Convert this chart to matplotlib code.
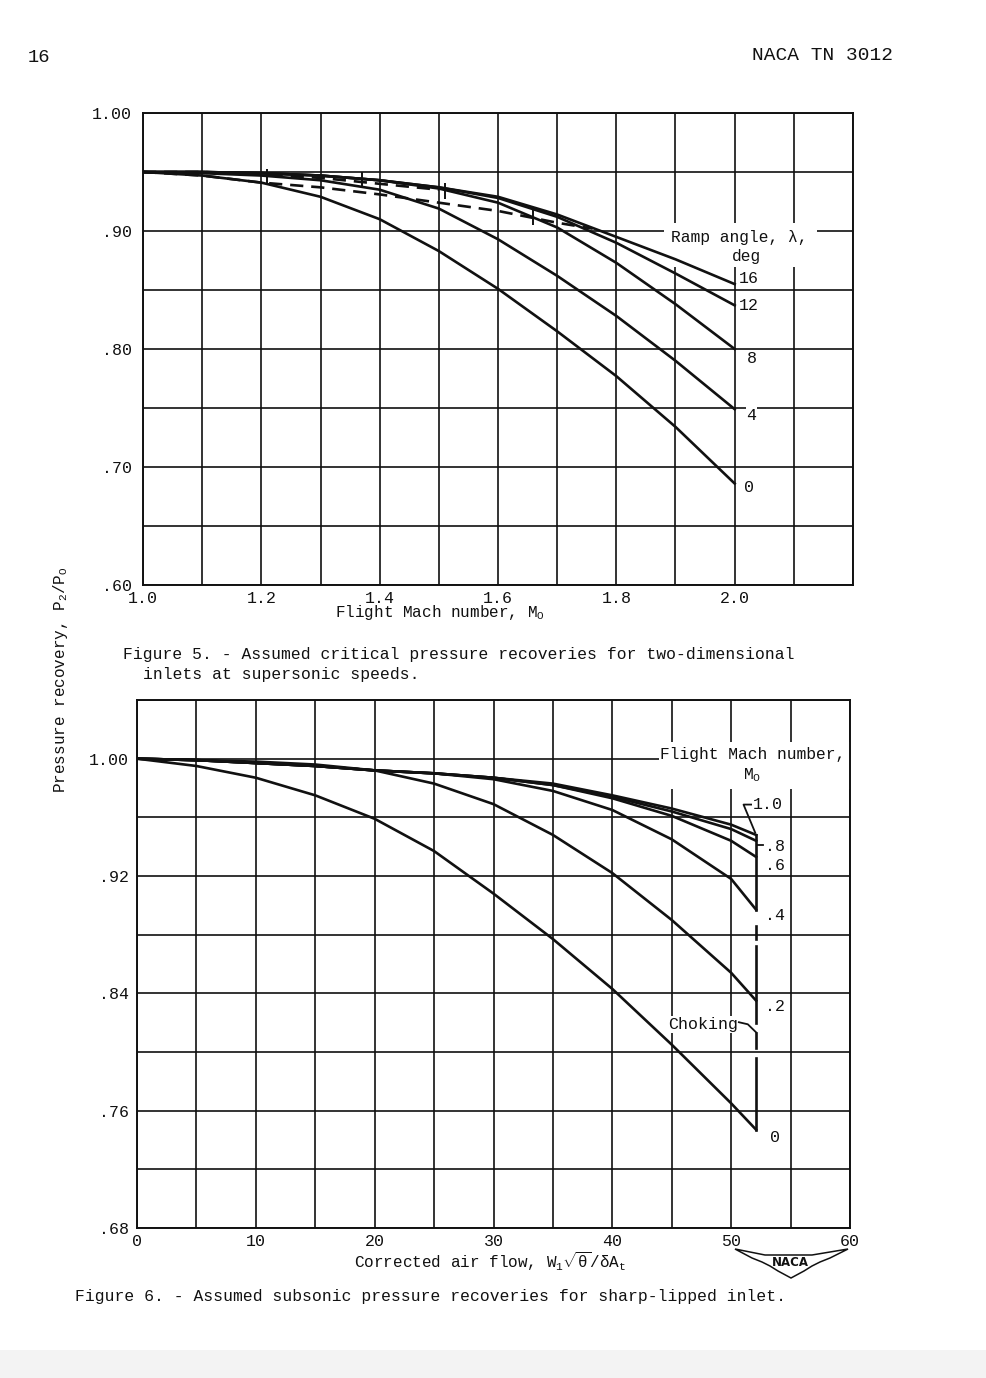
#!/bin/env python3
# NACA TN 3012, page 16: figures 5 and 6 redrawn.

import numpy as np
import matplotlib.pyplot as plt
from matplotlib.patches import Rectangle, Polygon

plt.rcParams['font.family'] = ['Liberation Mono', 'DejaVu Sans Mono']
plt.rcParams['mathtext.fontset'] = 'custom'
plt.rcParams['mathtext.rm'] = 'Liberation Mono'
plt.rcParams['mathtext.it'] = 'Liberation Mono'
plt.rcParams['mathtext.bf'] = 'Liberation Mono:bold'
plt.rcParams['mathtext.default'] = 'rm'

# ---- Figure 5: critical pressure recovery vs flight Mach number ----
mach = [1.0, 1.1, 1.2, 1.3, 1.4, 1.5, 1.6, 1.7, 1.8, 1.9, 2.0]
ramp_angles = ['16', '12', '8', '4', '0']
rec_ramp16 = [0.950, 0.950, 0.949, 0.947, 0.943, 0.937, 0.929, 0.914, 0.895, 0.876, 0.855]
rec_ramp12 = [0.950, 0.950, 0.949, 0.947, 0.943, 0.937, 0.928, 0.912, 0.890, 0.864, 0.837]
rec_ramp8 = [0.950, 0.950, 0.949, 0.947, 0.943, 0.936, 0.924, 0.903, 0.873, 0.838, 0.800]
rec_ramp4 = [0.950, 0.949, 0.947, 0.943, 0.935, 0.919, 0.893, 0.862, 0.828, 0.790, 0.749]
rec_ramp0 = [0.950, 0.947, 0.941, 0.929, 0.910, 0.883, 0.851, 0.815, 0.777, 0.734, 0.686]

# dashed envelopes
mach_dash_upper = [1.0, 1.1, 1.2, 1.3, 1.4, 1.5]
rec_dash_upper = [0.950, 0.950, 0.948, 0.945, 0.940, 0.935]
mach_dash_lower = [1.0, 1.1, 1.2, 1.3, 1.4, 1.5, 1.6, 1.7, 1.76]
rec_dash_lower = [0.950, 0.947, 0.941, 0.937, 0.931, 0.924, 0.917, 0.907, 0.902]

# short vertical tick marks on the curves
tick_mach = [1.21, 1.37, 1.51, 1.66]
tick_rec = [0.946, 0.943, 0.934, 0.912]

# ---- Figure 6: subsonic pressure recovery vs corrected air flow ----
airflow = [0, 5, 10, 15, 20, 25, 30, 35, 40, 45, 50, 52.1]
flight_mach = ['1.0', '.8', '.6', '.4', '.2', '0']
rec_m10 = [1.000, 0.999, 0.997, 0.995, 0.992, 0.990, 0.987, 0.983, 0.975, 0.966, 0.955, 0.948]
rec_m08 = [1.000, 0.999, 0.997, 0.995, 0.992, 0.990, 0.987, 0.982, 0.974, 0.964, 0.952, 0.944]
rec_m06 = [1.000, 0.999, 0.997, 0.995, 0.992, 0.990, 0.987, 0.982, 0.973, 0.961, 0.944, 0.933]
rec_m04 = [1.000, 0.999, 0.997, 0.995, 0.992, 0.990, 0.986, 0.978, 0.965, 0.945, 0.918, 0.897]
rec_m02 = [1.000, 0.999, 0.998, 0.996, 0.992, 0.983, 0.969, 0.948, 0.922, 0.890, 0.854, 0.835]
rec_m00 = [1.000, 0.995, 0.987, 0.975, 0.959, 0.937, 0.908, 0.877, 0.843, 0.805, 0.765, 0.747]

choke_flow = 52.1
choke_segments = [(0.948, 0.897), (0.886, 0.877), (0.872, 0.820), (0.813, 0.803), (0.796, 0.747)]

W, H = 986, 1378
INK = '#111111'


def page(x, y):
    return x / W, 1 - y / H


def style(ax, xgrid, xlabels, ygrid, ylabels, ypad):
    ax.set_xlim(xgrid[0], xgrid[-1])
    ax.set_ylim(ygrid[0], ygrid[-1])
    ax.set_xticks(xgrid, labels=xlabels)
    ax.set_yticks(ygrid, labels=ylabels)
    ax.tick_params(length=0, labelsize=12, colors=INK)
    ax.tick_params(axis='x', pad=4)
    ax.tick_params(axis='y', pad=ypad)
    ax.grid(True, color=INK, lw=1.2)
    ax.set_axisbelow(True)
    for s in ax.spines.values():
        s.set_linewidth(1.4)
        s.set_color(INK)


fig = plt.figure(figsize=(9.86, 13.78), dpi=100)

# light grey strip at the foot of the page scan
fig.add_artist(Rectangle(page(0, 1378), 1.0, 28 / H, fc='#f3f3f3', ec='none',
                         transform=fig.transFigure, zorder=0))

fig.text(*page(28, 58), '16', fontsize=13.5, va='center', color=INK)
fig.text(*page(893, 55), 'NACA TN 3012', fontsize=14, va='center', ha='right', color=INK)

# ---------------- Figure 5 ----------------
ax1 = fig.add_axes([143 / W, 1 - 585 / H, 710 / W, 472 / H])
xg = np.round(np.arange(1.0, 2.21, 0.1), 2)
yg = np.round(np.arange(0.60, 1.001, 0.05), 2)
xl = [f'{v:.1f}' if (round(v * 10) % 2 == 0 and v <= 2.0) else '' for v in xg]
yl = [('1.00' if v == 1.0 else f'{v:.2f}'[1:]) if round(v * 100) % 10 == 0 else '' for v in yg]
style(ax1, xg, xl, yg, yl, 8)

ax1.add_patch(Rectangle((1.88, 0.8695), 0.26, 0.0375, fc='white', ec='none', zorder=1))

curve = dict(color=INK, lw=1.9, zorder=3, solid_joinstyle='round', dash_joinstyle='round')
for rec in [rec_ramp16, rec_ramp12, rec_ramp8, rec_ramp4, rec_ramp0]:
    ax1.plot(mach, rec, **curve)
ax1.plot(mach_dash_upper, rec_dash_upper, ls=(0, (5, 3)), **curve)
ax1.plot(mach_dash_lower, rec_dash_lower, ls=(0, (5, 3)), **curve)
ax1.plot(tick_mach, tick_rec, ls='none', marker='|', ms=11, mew=1.4, color=INK, zorder=3)

wb = dict(fc='white', ec='none', pad=0.6)
ax1.text(2.007, 0.8949, 'Ramp angle, \u03bb,', ha='center', va='center', fontsize=11.7,
         bbox=wb, zorder=4, color=INK)
ax1.text(2.020, 0.8780, 'deg', ha='center', va='center', fontsize=11.7, bbox=wb, zorder=4, color=INK)
label_y5 = [0.860, 0.837, 0.792, 0.744, 0.683]
label_x5 = [2.007, 2.007, 2.020, 2.020, 2.015]
for lab, lx, ly in zip(ramp_angles, label_x5, label_y5):
    ax1.text(lx, ly, lab, ha='left', va='center', fontsize=12, bbox=wb, zorder=4, color=INK)

fig.text(*page(440, 613), 'Flight Mach number, M$_{O}$', ha='center', va='center',
         fontsize=11.5, color=INK)
fig.text(*page(123, 655), 'Figure 5. - Assumed critical pressure recoveries for two-dimensional',
         ha='left', va='center', fontsize=11.8, color=INK)
fig.text(*page(143, 675), 'inlets at supersonic speeds.', ha='left', va='center',
         fontsize=11.8, color=INK)

fig.text(*page(60, 680), 'Pressure recovery, P$_{2}$/P$_{O}$', rotation=90,
         ha='center', va='center', fontsize=11.5, color=INK)

# ---------------- Figure 6 ----------------
ax2 = fig.add_axes([137 / W, 1 - 1228 / H, 713 / W, 528 / H])
xg2 = np.arange(0, 61, 5)
yg2 = np.round(np.arange(0.68, 1.041, 0.04), 2)
xl2 = [str(v) if v % 10 == 0 else '' for v in xg2]
yl2 = [('1.00' if v == 1.0 else f'{v:.2f}'[1:]) if i % 2 == 0 else '' for i, v in enumerate(yg2)]
style(ax2, xg2, xl2, yg2, yl2, 6)

ax2.add_patch(Rectangle((44.0, 0.979), 16.0, 0.0325, fc='white', ec='none', zorder=1))

for rec in [rec_m10, rec_m08, rec_m06, rec_m04, rec_m02, rec_m00]:
    ax2.plot(airflow, rec, **curve)
for top, bot in choke_segments:
    ax2.plot([choke_flow, choke_flow], [top, bot], color=INK, lw=1.9, zorder=3)

ax2.text(44.02, 1.0027, 'Flight Mach number,', ha='left', va='center', fontsize=11.7,
         bbox=wb, zorder=4, color=INK)
ax2.text(51.77, 0.989, 'M$_{O}$', ha='center', va='center', fontsize=11.7, zorder=4, color=INK)

ax2.plot([51.77, 51.04, 52.02], [0.9687, 0.9687, 0.9496], color=INK, lw=1.3, zorder=4)
ax2.plot([52.19, 52.7], [0.9414, 0.9414], color=INK, lw=1.3, zorder=4)
label_x6 = [51.85, 52.86, 52.86, 52.86, 52.86, 53.3]
label_y6 = [0.9687, 0.940, 0.927, 0.893, 0.831, 0.742]
for lab, lx, ly in zip(flight_mach, label_x6, label_y6):
    ax2.text(lx, ly, lab, ha='left', va='center', fontsize=12, bbox=wb, zorder=4, color=INK)

ax2.text(44.7, 0.8189, 'Choking', ha='left', va='center', fontsize=12, bbox=wb, zorder=4, color=INK)
ax2.plot([50.65, 51.4, 52.1], [0.8203, 0.8189, 0.8134], color=INK, lw=1.3, zorder=4)

fig.text(*page(490, 1262), r'Corrected air flow, W$_{1}\sqrt{\theta}$/$\delta$A$_{t}$',
         ha='center', va='center', fontsize=11.5, color=INK)
fig.text(*page(75, 1297), 'Figure 6. - Assumed subsonic pressure recoveries for sharp-lipped inlet.',
         ha='left', va='center', fontsize=11.8, color=INK)

# NACA wings logo
wing = [(735, 1249), (765, 1255), (812, 1255), (848, 1249), (830, 1258), (820, 1262),
        (812, 1266), (804, 1271), (791, 1278), (778, 1271), (770, 1266), (762, 1262), (752, 1258)]
fig.add_artist(Polygon([page(x, y) for x, y in wing], closed=True, fc='white', ec=INK,
                       lw=1.1, transform=fig.transFigure))
fig.text(*page(790, 1263), 'NACA', ha='center', va='center', fontsize=8.5,
         fontweight='bold', family='DejaVu Sans', color=INK)

fig.savefig('out.png', dpi=100, facecolor='white')
